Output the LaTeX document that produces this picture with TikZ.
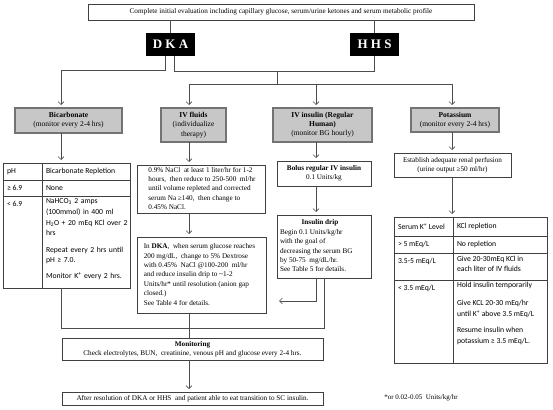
\documentclass[tikz,border=0pt]{standalone}
\usepackage{fontspec}
\setmainfont{Liberation Serif}
\newfontfamily\tabfont{Carlito}
\usetikzlibrary{arrows.meta}
\begin{document}
\begin{tikzpicture}[x=1pt,y=-1pt,
  every node/.style={inner sep=0pt, outer sep=0pt},
  wbox/.style={draw=black!75, line width=0.6pt, fill=white, anchor=north west, font=\fontsize{7.2}{9.4}\selectfont},
  gbox/.style={draw=black!55, line width=1.1pt, fill=black!22, anchor=north west, align=center, font=\fontsize{7.5}{9.2}\selectfont},
  blk/.style={fill=black, text=white, anchor=north west, font=\bfseries\fontsize{13}{14}\selectfont},
  conn/.style={draw=black!70, line width=0.6pt},
  arr/.style={conn, -{Straight Barb[length=3pt,width=6pt]}, shorten >=3pt},
  arrn/.style={conn, -{Straight Barb[length=3pt,width=6pt]}},
  tline/.style={draw=black!75, line width=0.6pt},
  tab/.style={font=\tabfont\fontsize{7.7}{10.6}\selectfont, align=left}
]
\useasboundingbox (0,0) rectangle (553,409);

% top
\node[wbox, minimum width=386, minimum height=16] (top) at (88,4) {Complete initial evaluation including capillary glucose, serum/urine ketones and serum metabolic profile};
\node[blk, minimum width=49, minimum height=23] (dka) at (146,33) {D K A};
\node[blk, minimum width=49, minimum height=23] (hhs) at (350,33) {H H S};

% gray boxes
\node[gbox, minimum width=107, minimum height=25] (bic) at (15,108) {\textbf{Bicarbonate}\\(monitor every 2-4 hrs)};
\node[gbox, minimum width=65, minimum height=34] (ivf) at (161,108) {\textbf{IV fluids}\\(individualize\\therapy)};
\node[gbox, minimum width=99, minimum height=34] (ins) at (273,108) {\textbf{IV insulin (Regular}\\\textbf{Human)}\\(monitor BG hourly)};
\node[gbox, minimum width=88, minimum height=24] (pot) at (411,108) {\textbf{Potassium}\\(monitor every 2-4 hrs)};

% arrow x positions
\coordinate (jL) at (61,70);
\coordinate (jR) at (277,71);
\coordinate (jM) at (277,84);
\coordinate (ivfA) at (189,0);
\coordinate (insA) at (316,0);
\coordinate (potA) at (452,0);

\draw[conn] (top.south -| dka) -- (dka.north);
\draw[conn] (top.south -| hhs) -- (hhs.north);
\draw[arr] ([xshift=-5.5pt]dka.south) |- (jL) -- (jL |- bic.north);
\draw[conn] ([xshift=3.5pt]dka.south) |- (hhs.south |- jR) -- (hhs.south);
\draw[conn] (jR) -- (jM);
\draw[conn] (jM -| ivfA) -- (jM -| potA);
\draw[arr] (jM -| ivfA) -- (ivfA |- ivf.north);
\draw[arr] (jM -| insA) -- (insA |- ins.north);
\draw[arr] (jM -| potA) -- (potA |- pot.north);

% bicarbonate table
\node[draw=black!75, line width=0.6pt, anchor=north west, minimum width=127, minimum height=125] (btab) at (3,163) {};
\draw[tline] (42,163) -- (42,288);
\draw[tline] (3,180) -- (130,180);
\draw[tline] (3,196) -- (130,196);
\node[tab, anchor=west] (bh1) at (7,171.5) {pH};
\node[tab, anchor=west] (bh2) at (46,171.5) {Bicarbonate Repletion};
\node[tab, anchor=west] (br1) at (7,188) {≥ 6.9};
\node[tab, anchor=west] (br2) at (46,188) {None};
\node[tab, anchor=base west] (br3) at (7,206.5) {< 6.9};
\node[tab, anchor=north west, text width=84] (br4) at (46,199) {NaHCO\textsubscript{3} 2 amps\\(100mmol) in 400 ml\\H\textsubscript{2}O + 20 mEq KCl over 2\\hrs\\[6pt]Repeat every 2 hrs until\\pH ≥ 7.0.\\[5pt]Monitor K\textsuperscript{+} every 2 hrs.};
\draw[arr] (jL |- bic.south) -- (jL |- btab.north);

% IV fluids column
\node[wbox, minimum width=128, minimum height=48, align=left] (nacl1) at (137,165) {\hspace*{2pt}\begin{tabular}{@{}l@{}}0.9\% NaCl\ \ at least 1 liter/hr for 1-2\\hours,\ \ then reduce to 250-500\ \ ml/hr\\until volume repleted and corrected\\serum Na ≥140,\ \ then change to\\0.45\% NaCl.\end{tabular}};
\node[wbox, minimum width=129, minimum height=76, align=left] (nacl2) at (137,237) {\hspace*{2pt}\begin{tabular}{@{}l@{}}In \textbf{DKA},\ \ when serum glucose reaches\\200 mg/dL,\ \ change to 5\% Dextrose\\with 0.45\%\ \ NaCl @100-200\ \ ml/hr\\and reduce insulin drip to \textasciitilde 1-2\\Units/hr* until resolution (anion gap\\closed.)\\See Table 4 for details.\end{tabular}\hspace*{6pt}};
\draw[arr] (ivfA |- ivf.south) -- (ivfA |- nacl1.north);
\draw[arr] (ivfA |- nacl1.south) -- (ivfA |- nacl2.north);

% insulin column
\node[wbox, minimum width=94, minimum height=25, align=center] (bolus) at (277,161) {\textbf{Bolus regular IV insulin}\\0.1 Units/kg};
\node[wbox, minimum width=94, minimum height=63, align=left] (drip) at (277,215) {\begin{tabular}{@{}l@{}}\multicolumn{1}{@{}c@{}}{\makebox[80pt]{\textbf{Insulin drip}}}\\Begin 0.1 Units/kg/hr\\with the goal of\\decreasing the serum BG\\by 50-75\ \ mg/dL/hr.\\See Table 5 for details.\end{tabular}\hspace*{8pt}};
\draw[arr] (insA |- ins.south) -- (insA |- bolus.north);
\draw[arr] (insA |- bolus.south) -- (insA |- drip.north);
\coordinate (ja) at (316,301);
\coordinate (tipA) at (279,301);
\draw[arrn] (insA |- drip.south) -- (ja) -- (tipA);
\coordinate (jb) at (324,328);
\draw[conn] (jL |- btab.south) |- (jb) -- (jb |- drip.south);

% potassium column
\node[wbox, minimum width=117, minimum height=24, align=center] (pert) at (394,153) {Establish adequate renal perfusion\\(urine output ≥50 ml/hr)};
\node[draw=black!75, line width=0.6pt, anchor=north west, minimum width=153, minimum height=146] (ktab) at (394,217) {};
\draw[tline] (453,217) -- (453,363);
\draw[tline] (394,236) -- (547,236);
\draw[tline] (394,253) -- (547,253);
\draw[tline] (394,280) -- (547,280);
\node[tab, anchor=west] (kh1) at (398,226.5) {Serum K\textsuperscript{+} Level};
\node[tab, anchor=west] (kh2) at (457,226.5) {KCl repletion};
\node[tab, anchor=west] (kr1) at (398,244.5) {> 5 mEq/L};
\node[tab, anchor=west] (kr2) at (457,244.5) {No repletion};
\node[tab, anchor=base west] (kr3) at (398,263.5) {3.5-5 mEq/L};
\node[tab, anchor=north west] (kr4) at (457,256) {Give 20-30mEq KCl in\\each liter of IV fluids};
\node[tab, anchor=base west] (kr5) at (398,290) {< 3.5 mEq/L};
\node[tab, anchor=north west] (kr6) at (457,282.5) {Hold insulin temporarily\\[7pt]Give KCL 20-30 mEq/hr\\until K\textsuperscript{+} above 3.5 mEq/L\\[6pt]Resume insulin when\\potassium ≥ 3.5 mEq/L.};
\draw[arr] (potA |- pot.south) -- (potA |- pert.north);
\draw[arr] (potA |- pert.south) -- (potA |- ktab.north);

% bottom
\node[wbox, minimum width=261, minimum height=22, align=center] (mon) at (62,338) {\textbf{Monitoring}\\Check electrolytes, BUN,\ \ creatinine, venous pH and glucose every 2-4 hrs.};
\node[wbox, minimum width=261, minimum height=13, align=center] (fin) at (62,392) {After resolution of DKA or HHS\ \ and patient able to eat transition to SC insulin.};
\draw[conn] (ivfA |- nacl2.south) -- (ivfA |- mon.north);
\draw[arr] (ivfA |- mon.south) -- (ivfA |- fin.north);
\node[font=\fontsize{7}{8}\selectfont] (foot) at (421,398) {*or 0.02-0.05\ \ Units/kg/hr};
\end{tikzpicture}
\end{document}
